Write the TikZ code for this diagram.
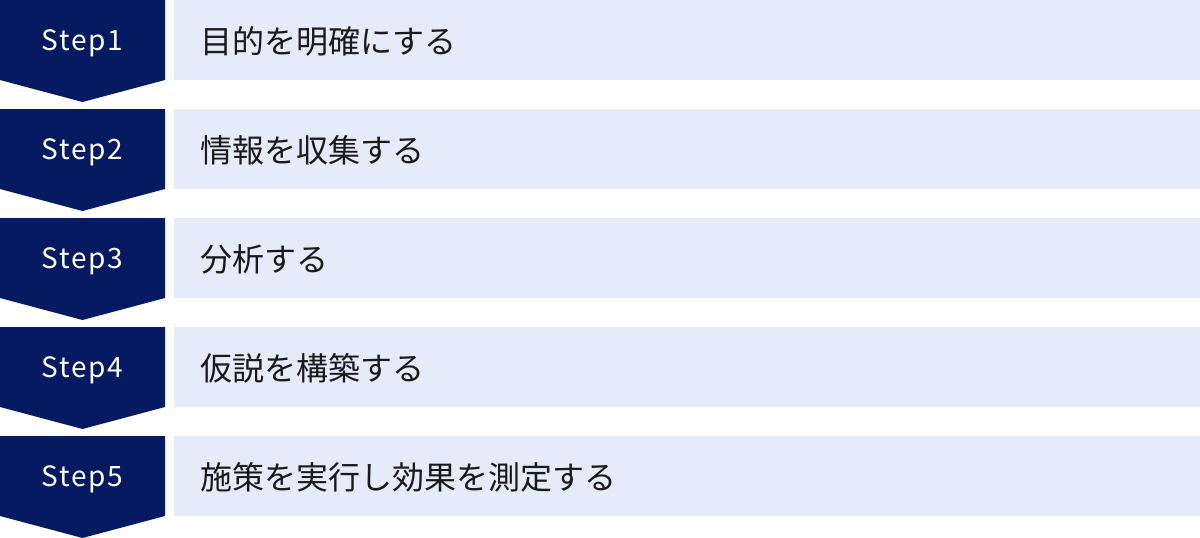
\documentclass[tikz,border=0pt]{standalone}
\usepackage{fontspec}
\setmainfont{Noto Sans CJK JP}
\newfontfamily\stepfont[LetterSpace=6]{Noto Sans CJK JP}
\definecolor{navy}{HTML}{061A62}
\definecolor{pale}{HTML}{E5EBF9}
\definecolor{ink}{HTML}{1A1A1A}
\begin{document}
\begin{tikzpicture}[x=1pt,y=-1pt,
  chev/.style={fill=navy,draw=none},
  band/.style={fill=pale,draw=none},
  steplabel/.style={text=white,font=\stepfont\fontsize{28}{32}\selectfont,anchor=center,inner sep=0pt},
  tasklabel/.style={text=ink,font=\fontsize{32}{36}\selectfont,anchor=west,inner sep=0pt}]
\useasboundingbox (0,0) rectangle (1200,538);
\foreach \i/\t [count=\k from 0] in {1/目的を明確にする,2/情報を収集する,3/分析する,4/仮説を構築する,5/施策を実行し効果を測定する}{
  \pgfmathsetmacro{\yy}{109*\k}
  \fill[chev] (0,\yy) -- (165,\yy) -- (165,\yy+80) -- (82.5,\yy+102) -- (0,\yy+80) -- cycle;
  \fill[band] (174,\yy) rectangle (1200,\yy+80);
  \node[steplabel] (s\i) at (82.5,\yy+43) {Step\i};
  \node[tasklabel] (t\i) at (200,\yy+41) {\t};
}
\end{tikzpicture}
\end{document}
